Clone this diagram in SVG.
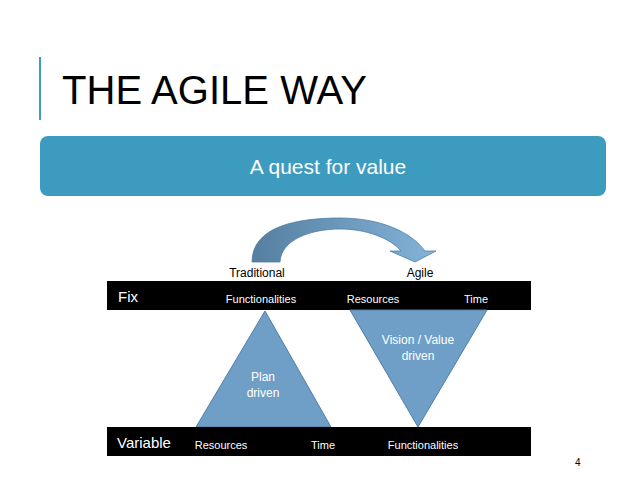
<svg xmlns="http://www.w3.org/2000/svg" width="638" height="478" viewBox="0 0 638 478">
<style>
text{font-family:"Liberation Sans",Arial,sans-serif}
.w{fill:#fff}
.s{font-size:11px}
.tri{fill:#6f9fc6;stroke:#4f7ea6;stroke-width:1}
</style>
<defs>
<linearGradient id="g" x1="0" x2="1" y1="0" y2="0"><stop offset="0" stop-color="#557fa0"/><stop offset="1" stop-color="#84b3d8"/></linearGradient>
</defs>
<rect width="638" height="478" fill="#fff"/>
<g id="title">
<rect x="39" y="57" width="2" height="63" fill="#3e9bc0"/>
<text x="62" y="104" font-size="40" textLength="305" fill="#000">THE AGILE WAY</text>
</g>
<g id="banner">
<rect x="40" y="136" width="566" height="60" rx="8" fill="#3e9bc0"/>
<text x="328" y="174" font-size="21" class="w" text-anchor="middle">A quest for value</text>
</g>
<g id="connectors">
<path d="M252,262 C252,226 298,218 340,218 C382,218 412,233 425,251 L436,251 L415,262 L390,251 L401,251 C390,238 366,229 340,229 C310,229 281,240 280,262 Z" fill="url(#g)" stroke="#4f7ea6" stroke-width="0.8"/>
</g>
<g id="labels">
<text x="257" y="277" font-size="12" text-anchor="middle">Traditional</text>
<text x="420" y="277" font-size="12" text-anchor="middle">Agile</text>
</g>
<g id="fix">
<rect x="107" y="281" width="424" height="29" fill="#000"/>
<text x="118" y="302" font-size="15" class="w">Fix</text>
<text x="261" y="303" class="s w" text-anchor="middle">Functionalities</text>
<text x="373" y="303" class="s w" text-anchor="middle">Resources</text>
<text x="476" y="303" class="s w" text-anchor="middle">Time</text>
</g>
<g id="plan">
<polygon class="tri" points="265,311 196,427 331,427"/>
<text x="263" y="381" font-size="12" class="w" text-anchor="middle">Plan</text>
<text x="263" y="397" font-size="12" class="w" text-anchor="middle">driven</text>
</g>
<g id="vision">
<polygon class="tri" points="350,310 487,310 418,427"/>
<text x="418" y="344" font-size="12" class="w" text-anchor="middle">Vision / Value</text>
<text x="418" y="360" font-size="12" class="w" text-anchor="middle">driven</text>
</g>
<g id="variable">
<rect x="107" y="427" width="424" height="29" fill="#000"/>
<text x="117" y="448" font-size="15" class="w">Variable</text>
<text x="221" y="449" class="s w" text-anchor="middle">Resources</text>
<text x="323" y="449" class="s w" text-anchor="middle">Time</text>
<text x="423" y="449" class="s w" text-anchor="middle">Functionalities</text>
</g>
<text x="575" y="466" font-size="10">4</text>
</svg>
